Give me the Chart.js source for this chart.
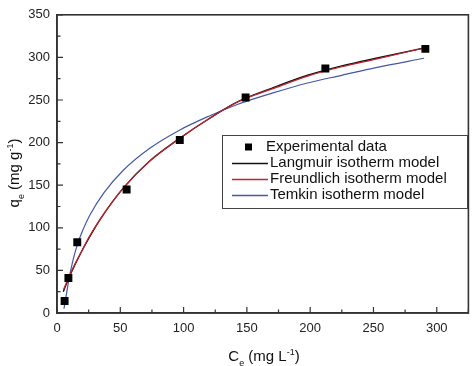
<!DOCTYPE html>
<html>
<head>
<meta charset="utf-8">
<script src="https://cdn.jsdelivr.net/npm/chart.js@4.4.1/dist/chart.umd.min.js"></script>
<style>
html,body{margin:0;padding:0;background:#fff;}
#wrap{width:474px;height:366px;position:relative;}
</style>
</head>
<body>
<div id="wrap"><canvas id="c" width="474" height="366"></canvas></div>
<script>
// Experimental data
const expC = [6, 9, 16, 55, 97, 149, 212, 291];
const expQ = [14, 41, 83, 145, 203, 253, 287, 310];
// Langmuir model curve
const langC = [5, 9, 14, 20, 26, 35, 52, 73, 96, 120, 143, 170, 198, 225, 252, 290];
const langQ = [25, 40, 56, 74, 90, 112, 146, 178, 204, 228, 248, 264, 279, 290, 299, 311];
// Freundlich model curve
const freuC = [5, 9, 14, 20, 26, 35, 52, 73, 96, 120, 143, 170, 198, 225, 252, 290];
const freuQ = [27, 41, 57, 74, 91, 112, 146, 178, 204, 228, 248, 263, 278, 289, 298, 311];
// Temkin model curve
const temkC = [5.5, 7, 9, 12, 16, 20, 26, 37, 52, 73, 96, 120, 143, 170, 198, 225, 252, 290];
const temkQ = [5, 18, 36, 58, 80, 96, 115, 141, 167, 193, 214, 231, 245, 258, 270, 279, 288, 299];
// Axes
const xTicks = [0, 50, 100, 150, 200, 250, 300];
const yTicks = [0, 50, 100, 150, 200, 250, 300, 350];
const labels = ['Experimental data', 'Langmuir isotherm model', 'Freundlich isotherm model', 'Temkin isotherm model'];
const colors = ['#000000', '#111111', '#c4232e', '#4458a6'];

const FONT = '"Liberation Sans", Arial, sans-serif';
const AXIS = '#333333';

function pts(xs, ys){ return xs.map((x,i)=>({x:x, y:ys[i]})); }

function drawRich(ctx, segs, size){
  let x = 0;
  segs.forEach(s=>{
    const fs = s.sub||s.sup ? Math.round(size*0.62) : size;
    ctx.font = fs + 'px ' + FONT;
    const dy = s.sub ? size*0.3 : (s.sup ? -size*0.42 : 0);
    ctx.fillText(s.t, x, dy);
    x += ctx.measureText(s.t).width;
  });
  return x;
}
function measureRich(ctx, segs, size){
  let w = 0;
  segs.forEach(s=>{
    const fs = s.sub||s.sup ? Math.round(size*0.62) : size;
    ctx.font = fs + 'px ' + FONT;
    w += ctx.measureText(s.t).width;
  });
  return w;
}

const decor = {
  id: 'decor',
  afterDraw(chart){
    const ctx = chart.ctx, a = chart.chartArea;
    const xs = chart.scales.x, ys = chart.scales.y;
    ctx.save();
    // frame
    ctx.strokeStyle = AXIS; ctx.lineWidth = 1.6;
    ctx.strokeRect(a.left, a.top, a.right - a.left, a.bottom - a.top);
    // inward ticks
    ctx.lineWidth = 1.2;
    ctx.beginPath();
    for (let v = 0; v <= 325; v += 25){
      const px = xs.getPixelForValue(v);
      const len = (v % 50 === 0) ? 6 : 3.5;
      ctx.moveTo(px, a.bottom); ctx.lineTo(px, a.bottom - len);
    }
    for (let v = 0; v <= 350; v += 25){
      const py = ys.getPixelForValue(v);
      const len = (v % 50 === 0) ? 6 : 3.5;
      ctx.moveTo(a.left, py); ctx.lineTo(a.left + len, py);
    }
    ctx.stroke();

    // axis titles
    ctx.fillStyle = '#111';
    ctx.textBaseline = 'alphabetic';
    const xt = [{t:'C'},{t:'e',sub:true},{t:' (mg L'},{t:'-1',sup:true},{t:')'}];
    const wx = measureRich(ctx, xt, 15);
    ctx.save();
    ctx.translate(264 - wx/2, 361);
    drawRich(ctx, xt, 15);
    ctx.restore();
    const yt = [{t:'q'},{t:'e',sub:true},{t:' (mg g'},{t:'-1',sup:true},{t:')'}];
    const wy = measureRich(ctx, yt, 15);
    ctx.save();
    ctx.translate(19, 173 + wy/2);
    ctx.rotate(-Math.PI/2);
    drawRich(ctx, yt, 15);
    ctx.restore();

    // legend
    const lx = 222, ly = 135, lw = 245, lh = 73;
    ctx.fillStyle = '#fff';
    ctx.fillRect(lx, ly, lw, lh);
    ctx.strokeStyle = '#444'; ctx.lineWidth = 1;
    ctx.strokeRect(lx + 0.5, ly + 0.5, lw, lh);
    ctx.font = '15px ' + FONT;
    ctx.textBaseline = 'middle';
    const rows = [147, 163, 179, 195];
    labels.forEach((lab, i)=>{
      const y = rows[i];
      if (i === 0){
        ctx.fillStyle = colors[0];
        ctx.fillRect(245, y - 3.5, 7, 7);
      } else {
        ctx.strokeStyle = colors[i]; ctx.lineWidth = 1.3;
        ctx.beginPath(); ctx.moveTo(232, y + 0.5); ctx.lineTo(268, y + 0.5); ctx.stroke();
      }
      ctx.fillStyle = '#111';
      ctx.fillText(lab, i === 0 ? 266 : 270, y);
    });
    ctx.restore();
  }
};

new Chart(document.getElementById('c'), {
  type: 'scatter',
  data: {
    datasets: [
      { label: labels[0], data: pts(expC, expQ), showLine: false, pointStyle: 'rect',
        pointRadius: 5.6, pointHoverRadius: 5.6, backgroundColor: colors[0], borderColor: colors[0], borderWidth: 0, order: 0 },
      { label: labels[1], data: pts(langC, langQ), showLine: true, pointRadius: 0, borderColor: colors[1],
        borderWidth: 1.4, cubicInterpolationMode: 'monotone', order: 2 },
      { label: labels[2], data: pts(freuC, freuQ), showLine: true, pointRadius: 0, borderColor: colors[2],
        borderWidth: 1.2, cubicInterpolationMode: 'monotone', order: 1 },
      { label: labels[3], data: pts(temkC, temkQ), showLine: true, pointRadius: 0, borderColor: colors[3],
        borderWidth: 1.2, cubicInterpolationMode: 'monotone', order: 3 }
    ]
  },
  options: {
    responsive: false,
    animation: false,
    devicePixelRatio: 1,
    layout: { padding: { top: 7, right: 2, left: 0, bottom: 0 } },
    plugins: { legend: { display: false }, tooltip: { enabled: false } },
    scales: {
      x: {
        type: 'linear', min: 0, max: 325,
        afterBuildTicks: s => { s.ticks = xTicks.map(v => ({value: v})); },
        afterFit: s => { s.height = 53; },
        grid: { display: false, drawTicks: false },
        border: { display: true, color: AXIS, width: 1.6 },
        ticks: { font: { family: FONT, size: 13 }, color: '#222', padding: 8, maxRotation: 0 }
      },
      y: {
        type: 'linear', min: 0, max: 350,
        afterBuildTicks: s => { s.ticks = yTicks.map(v => ({value: v})); },
        afterFit: s => { s.width = 57; },
        grid: { display: false, drawTicks: false },
        border: { display: true, color: AXIS, width: 1.6 },
        ticks: { font: { family: FONT, size: 13 }, color: '#222', padding: 7 }
      }
    }
  },
  plugins: [decor]
});
</script>
</body>
</html>
